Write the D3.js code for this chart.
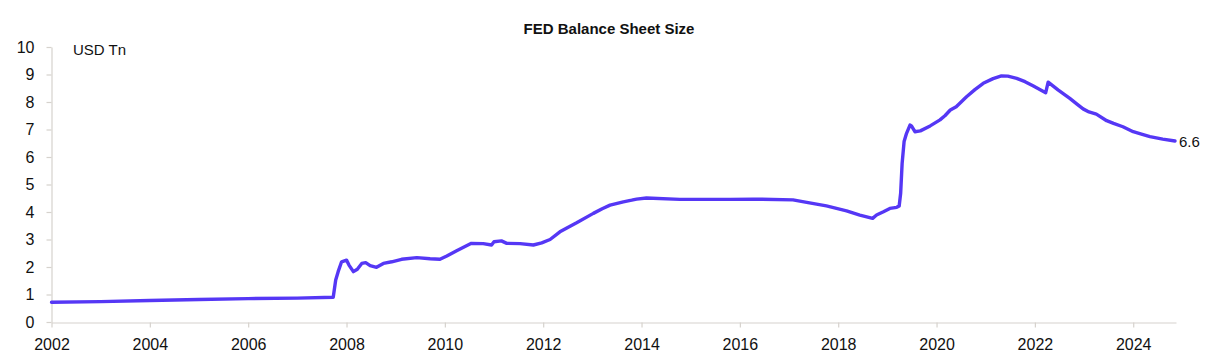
<!DOCTYPE html>
<html>
<head>
<meta charset="utf-8">
<script src="https://cdn.jsdelivr.net/npm/d3@7"></script>
<style>
  html, body { margin: 0; padding: 0; background: #fff; }
  svg { display: block; font-family: "Liberation Sans", Arial, sans-serif; }
</style>
</head>
<body>
<svg id="chart" width="1222" height="357"></svg>
<script>
// Time (decimal year as drawn on the chart) and balance sheet size (USD Tn)
const years = [
  2002.00, 2003.00, 2004.00, 2005.00, 2006.00, 2007.00, 2007.73, 2007.78, 2007.83, 2007.90,
  2008.00, 2008.05, 2008.14, 2008.22, 2008.31, 2008.39, 2008.48, 2008.61, 2008.75, 2008.92,
  2009.12, 2009.43, 2009.70, 2009.90, 2010.04, 2010.24, 2010.54, 2010.78, 2010.95, 2011.00,
  2011.15, 2011.26, 2011.53, 2011.80, 2011.97, 2012.14, 2012.34, 2012.50, 2012.68, 2013.02,
  2013.20, 2013.36, 2013.63, 2013.80, 2013.90, 2014.10, 2014.78, 2015.80, 2016.27, 2017.08,
  2017.36, 2017.76, 2018.17, 2018.44, 2018.70, 2018.78, 2018.92, 2019.05, 2019.19, 2019.24,
  2019.27, 2019.30, 2019.34, 2019.39, 2019.46, 2019.49, 2019.56, 2019.67, 2019.87, 2020.07,
  2020.17, 2020.28, 2020.40, 2020.50, 2020.61, 2020.78, 2020.95, 2021.15, 2021.32, 2021.45,
  2021.63, 2021.80, 2021.97, 2022.22, 2022.27, 2022.47, 2022.71, 2022.85, 2022.98, 2023.10,
  2023.25, 2023.46, 2023.60, 2023.79, 2024.00, 2024.15, 2024.34, 2024.60, 2024.85
];
const values = [
  0.72, 0.74, 0.78, 0.82, 0.85, 0.87, 0.90, 1.53, 1.83, 2.19,
  2.25, 2.07, 1.83, 1.92, 2.13, 2.16, 2.05, 1.99, 2.13, 2.19,
  2.28, 2.34, 2.30, 2.28, 2.40, 2.59, 2.86, 2.85, 2.80, 2.92,
  2.95, 2.86, 2.85, 2.80, 2.88, 3.00, 3.28, 3.44, 3.61, 3.95,
  4.12, 4.25, 4.37, 4.43, 4.47, 4.51, 4.46, 4.46, 4.47, 4.44,
  4.35, 4.22, 4.04, 3.89, 3.77, 3.89, 4.01, 4.13, 4.17, 4.22,
  4.68, 5.77, 6.56, 6.86, 7.16, 7.13, 6.92, 6.95, 7.13, 7.35,
  7.50, 7.71, 7.83, 8.00, 8.19, 8.45, 8.68, 8.85, 8.95, 8.94,
  8.86, 8.74, 8.58, 8.34, 8.72, 8.44, 8.13, 7.93, 7.75, 7.64,
  7.56, 7.32, 7.22, 7.10, 6.92, 6.84, 6.74, 6.65, 6.58
];
const xTicks = [2002, 2004, 2006, 2008, 2010, 2012, 2014, 2016, 2018, 2020, 2022, 2024];
const yTicks = [0, 1, 2, 3, 4, 5, 6, 7, 8, 9, 10];
const titleText = "FED Balance Sheet Size";
const unitText = "USD Tn";
const endLabel = "6.6";

const svg = d3.select("#chart");
const axisColor = "#d6d2cd";
const lineColor = "#5537f5";

const x = d3.scaleLinear().domain([2002, 2024.87]).range([51.5, 1176]);
const y = d3.scaleLinear().domain([0, 10]).range([322, 47]);

// Y axis
const yAxis = svg.append("g")
  .attr("transform", "translate(51.5,0)")
  .call(d3.axisLeft(y).tickValues(yTicks).tickFormat(d3.format("d"))
    .tickSize(5).tickSizeOuter(0).tickPadding(12));
yAxis.selectAll("path, line").attr("stroke", axisColor).attr("stroke-width", 1.2);
yAxis.selectAll("text").attr("fill", "#111").style("font-size", "16px");

// X axis
const xAxis = svg.append("g")
  .attr("transform", "translate(0,322.5)")
  .call(d3.axisBottom(x).tickValues(xTicks).tickFormat(d3.format("d"))
    .tickSize(5).tickSizeOuter(0).tickPadding(11));
xAxis.selectAll("path, line").attr("stroke", axisColor).attr("stroke-width", 1.2);
xAxis.selectAll("text").attr("fill", "#111").style("font-size", "16px");

// Title
svg.append("text")
  .attr("x", 609).attr("y", 34)
  .attr("text-anchor", "middle")
  .attr("font-weight", "bold")
  .style("font-size", "15px")
  .attr("fill", "#111")
  .text(titleText);

// Unit label
svg.append("text")
  .attr("x", 73).attr("y", 55)
  .style("font-size", "15px")
  .attr("fill", "#111")
  .text(unitText);

// Line
const data = years.map((t, i) => ({ t, v: values[i] }));
const line = d3.line().x(d => x(d.t)).y(d => y(d.v));
svg.append("path")
  .datum(data)
  .attr("d", line)
  .attr("fill", "none")
  .attr("stroke", lineColor)
  .attr("stroke-width", 3.4)
  .attr("stroke-linejoin", "round")
  .attr("stroke-linecap", "round");

// End label
const last = data[data.length - 1];
svg.append("text")
  .attr("x", x(last.t) + 4)
  .attr("y", y(last.v) + 5.5)
  .style("font-size", "15px")
  .attr("fill", "#111")
  .text(endLabel);
</script>
</body>
</html>
